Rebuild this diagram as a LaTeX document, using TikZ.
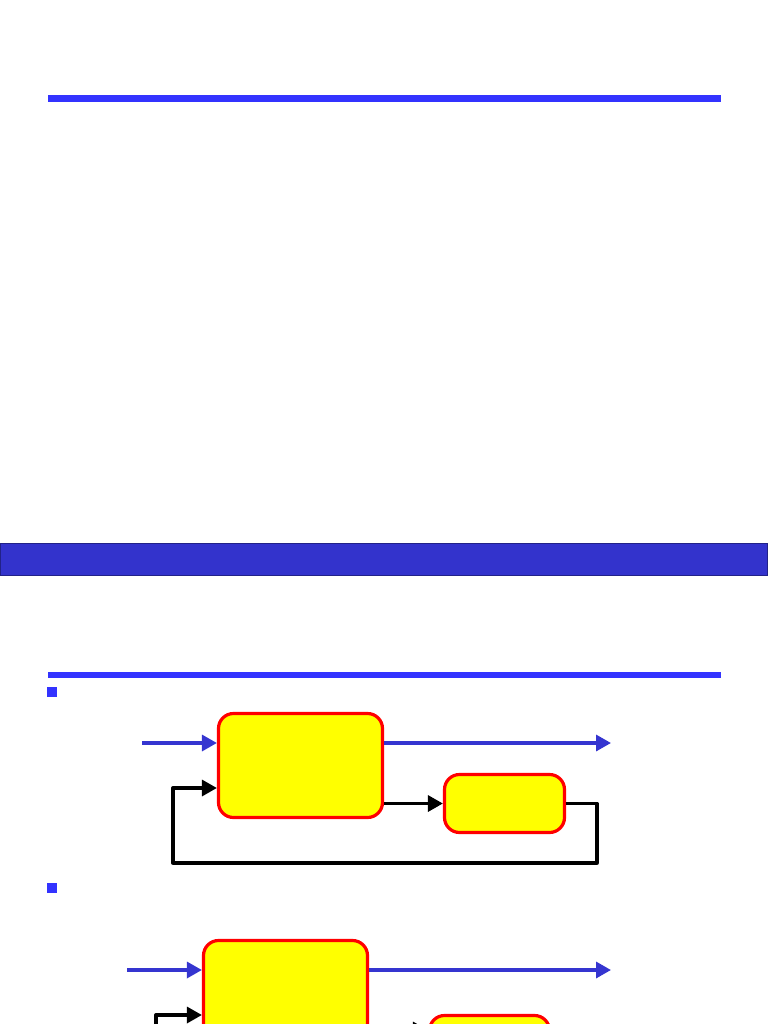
\documentclass[tikz,border=0pt]{standalone}
\usetikzlibrary{arrows.meta,positioning}
\definecolor{ruleblue}{HTML}{3333FF}
\definecolor{bandblue}{HTML}{3333CC}
\definecolor{banddark}{HTML}{222288}
\definecolor{sigblue}{HTML}{3535D0}
\definecolor{boxfill}{HTML}{FFFF00}
\definecolor{boxline}{HTML}{FF0000}

\begin{document}
\begin{tikzpicture}[
                    x=1pt, y=-1pt,
                    >={Triangle[length=15pt,width=16pt]},
                    blockbox/.style={draw=boxline, fill=boxfill, line width=3.2pt,
                        rounded corners=15pt, inner sep=0pt},
                    bigblock/.style={blockbox, minimum width=164pt, minimum height=104pt},
                    smallblock/.style={blockbox, minimum width=120pt, minimum height=58pt},
                    sigline/.style={sigblue, line width=3.3pt, ->},
                    loopline/.style={black, line width=3.3pt, line join=round, ->},
                    bullet/.style={fill=ruleblue, draw=none, minimum size=10pt, inner sep=0pt}]

                \useasboundingbox (0,0) rectangle (768,1024);
                \clip (0,0) rectangle (768,1024);

                \fill[ruleblue] (48,95) rectangle (721,102);
                \draw[banddark, fill=bandblue, line width=1pt] (0.5,543.5) rectangle (767.5,575.5);
                \fill[ruleblue] (48,672) rectangle (721,677.5);

                \draw(52,692) node[bullet] (b1) {};
                \draw(52,888) node[bullet] (b2) {};

                \draw(300.5,765.5) node[bigblock] (sys1) {};
                \draw(504.5,803.5) node[smallblock] (fb1) {};
                \coordinate (in1) at (142,743);
                \coordinate (out1) at (611,743);
                \coordinate (c1) at (597,863);
                \coordinate (tap1) at (173,788);

                \draw[sigline] (in1) -- (in1 -| sys1.west);
                \draw[sigline] (sys1.east |- out1) -- (out1);
                \draw[loopline] (sys1.east |- fb1.west) -- (fb1.west);
                \draw[loopline] (fb1.east) -| (c1) -| (tap1) -- (tap1 -| sys1.west);

                \draw(285.5,992.5) node[bigblock] (sys2) {};
                \draw(489.5,1044.5) node[smallblock] (fb2) {};
                \coordinate (in2) at (127,970);
                \coordinate (out2) at (611,970);
                \coordinate (mid2) at (400,1030);
                \coordinate (c2) at (582,1110);
                \coordinate (tap2) at (156,1015);

                \draw[sigline] (in2) -- (in2 -| sys2.west);
                \draw[sigline] (sys2.east |- out2) -- (out2);
                \draw[loopline] (sys2.east |- mid2) -- (mid2 -| fb2.west);
                \draw[loopline] (fb2.east) -| (c2) -| (tap2) -- (tap2 -| sys2.west);

            \end{tikzpicture}
\end{document}
